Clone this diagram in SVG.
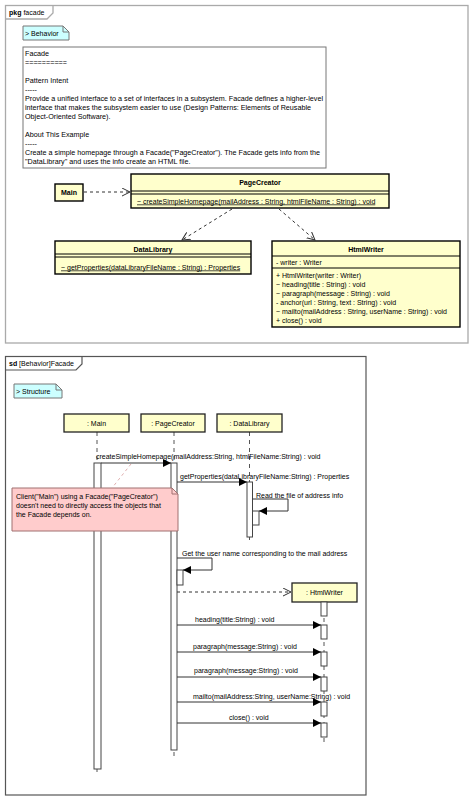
<svg xmlns="http://www.w3.org/2000/svg" width="474" height="801" viewBox="0 0 474 801">
<defs>
<style>
text{font-family:"Liberation Sans",Arial,sans-serif;font-size:7px;fill:#000}
.d{font-size:7.2px}
.b{font-weight:bold}
.u{text-decoration:underline}
.cls{fill:#ffffcc;stroke:#000;stroke-width:1.4}
.sep{stroke:#000;stroke-width:1}
.head{fill:#ffffcc;stroke:#222;stroke-width:1.3}
.act{fill:#fff;stroke:#444;stroke-width:1}
.life{stroke:#555;stroke-width:1;stroke-dasharray:4,4}
.msg{stroke:#333;stroke-width:1;fill:none}
.dep{stroke:#333;stroke-width:1;fill:none;stroke-dasharray:3,3}
</style>
<marker id="fa" markerWidth="8" markerHeight="8" refX="8" refY="4" orient="auto" markerUnits="userSpaceOnUse"><path d="M0,0 L8,4 L0,8 Z" fill="#000"/></marker>
<marker id="oa" markerWidth="9" markerHeight="9" refX="8" refY="4.5" orient="auto" markerUnits="userSpaceOnUse"><path d="M0,0.5 L8,4.5 L0,8.5" fill="none" stroke="#333" stroke-width="1"/></marker>
</defs>
<rect width="474" height="801" fill="#fff"/>

<g id="pkg-frame">
<rect x="5.5" y="5.5" width="462.5" height="337.5" fill="none" stroke="#aaa" stroke-width="1.3"/>
<path d="M5.5,19 H47 L53,13 V5.5" fill="none" stroke="#aaa" stroke-width="1.3"/>
<text x="9" y="15"><tspan class="b">pkg</tspan> facade</text>
</g>

<g id="note-behavior">
<path d="M23,26 H63 L69,32 V40 H23 Z" fill="#ccffff" stroke="#777" stroke-width="1"/>
<path d="M63,26 V32 H69" fill="none" stroke="#777" stroke-width="1"/>
<text x="25" y="35.5">&gt; Behavior</text>
</g>

<g id="note-description">
<rect x="23" y="47" width="303" height="121" fill="#fff" stroke="#777" stroke-width="1"/>
<text class="d" x="25" y="56">Facade</text>
<text class="d" x="25" y="65">==========</text>
<text class="d" x="25" y="83">Pattern Intent</text>
<text class="d" x="25" y="92">-----</text>
<text class="d" x="25" y="101">Provide a unified interface to a set of interfaces in a subsystem. Facade defines a higher-level</text>
<text class="d" x="25" y="110">interface that makes the subsystem easier to use (Design Patterns: Elements of Reusable</text>
<text class="d" x="25" y="119">Object-Oriented Software).</text>
<text class="d" x="25" y="137">About This Example</text>
<text class="d" x="25" y="146">-----</text>
<text class="d" x="25" y="155">Create a simple homepage through a Facade("PageCreator"). The Facade gets info from the</text>
<text class="d" x="25" y="164">"DataLibrary" and uses the info create an HTML file.</text>
</g>

<g id="class-Main">
<rect x="55" y="184" width="28" height="17" class="cls" stroke-width="1.8"/>
<text x="69" y="194.5" class="b" text-anchor="middle">Main</text>
</g>

<g id="class-PageCreator">
<rect x="131" y="174" width="258" height="34" class="cls"/>
<text x="260" y="185" class="b" text-anchor="middle">PageCreator</text>
<line x1="131" y1="191" x2="389" y2="191" class="sep"/>
<line x1="131" y1="194" x2="389" y2="194" class="sep"/>
<text x="137" y="203.5" class="u">~ createSimpleHomepage(mailAddress : String, htmlFileName : String) : void</text>
</g>

<g id="class-DataLibrary">
<rect x="55" y="241" width="196" height="33" class="cls"/>
<text x="153" y="251.5" class="b" text-anchor="middle">DataLibrary</text>
<line x1="55" y1="254" x2="251" y2="254" class="sep"/>
<line x1="55" y1="257" x2="251" y2="257" class="sep"/>
<text x="61" y="269.5" class="u">~ getProperties(dataLibraryFileName : String) : Properties</text>
</g>

<g id="class-HtmlWriter">
<rect x="272" y="241" width="188" height="86" class="cls"/>
<text x="366" y="251.5" class="b" text-anchor="middle">HtmlWriter</text>
<line x1="272" y1="256" x2="460" y2="256" class="sep"/>
<text x="276" y="264.5">- writer : Writer</text>
<line x1="272" y1="268" x2="460" y2="268" class="sep"/>
<text x="276" y="277.5">+ HtmlWriter(writer : Writer)</text>
<text x="276" y="286.5">~ heading(title : String) : void</text>
<text x="276" y="295.5">~ paragraph(message : String) : void</text>
<text x="276" y="304.5">- anchor(url : String, text : String) : void</text>
<text x="276" y="313.5">~ mailto(mailAddress : String, userName : String) : void</text>
<text x="276" y="322.5">+ close() : void</text>
</g>

<g id="class-connectors">
<line x1="84" y1="192" x2="130" y2="192" class="dep" marker-end="url(#oa)"/>
<line x1="232" y1="209" x2="182" y2="240" class="dep" marker-end="url(#oa)"/>
<line x1="279" y1="209" x2="315" y2="240" class="dep" marker-end="url(#oa)"/>
</g>

<g id="sd-frame">
<rect x="5.5" y="356.5" width="360.5" height="438.5" fill="none" stroke="#555" stroke-width="1.2"/>
<path d="M5.5,370 H76 L82,364 V356.5" fill="none" stroke="#555" stroke-width="1.2"/>
<text x="9" y="366"><tspan class="b">sd</tspan> [Behavior]Facade</text>
</g>

<g id="note-structure">
<path d="M14,384 H56 L62,390 V398 H14 Z" fill="#ccffff" stroke="#777" stroke-width="1"/>
<path d="M56,384 V390 H62" fill="none" stroke="#777" stroke-width="1"/>
<text x="16" y="393.5">&gt; Structure</text>
</g>

<g id="lifelines">
<line x1="97" y1="432" x2="97" y2="776" class="life"/>
<line x1="174" y1="432" x2="174" y2="756" class="life"/>
<line x1="249.5" y1="432" x2="249.5" y2="542" class="life"/>
<line x1="324" y1="602" x2="324" y2="745" class="life"/>
</g>

<g id="lifeline-Main">
<rect x="64" y="414" width="65" height="18" class="head"/>
<text x="96.5" y="425.5" text-anchor="middle">: Main</text>
<rect x="94" y="463" width="7" height="306" class="act"/>
</g>

<g id="lifeline-PageCreator">
<rect x="141" y="414" width="64" height="18" class="head"/>
<text x="173" y="425.5" text-anchor="middle">: PageCreator</text>
<rect x="171" y="463" width="6" height="287" class="act"/>
<rect x="177" y="570" width="6" height="15" class="act"/>
</g>

<g id="lifeline-DataLibrary">
<rect x="217" y="414" width="65" height="18" class="head"/>
<text x="249.5" y="425.5" text-anchor="middle">: DataLibrary</text>
<rect x="247" y="482" width="5.5" height="55" class="act"/>
<rect x="252.5" y="511" width="6.5" height="14" class="act"/>
</g>

<g id="lifeline-HtmlWriter">
<rect x="292" y="583" width="65" height="19" class="head"/>
<text x="324.5" y="595" text-anchor="middle">: HtmlWriter</text>
<rect x="321" y="602" width="6" height="14" class="act"/>
<rect x="321" y="625" width="6" height="14" class="act"/>
<rect x="321" y="652" width="6" height="14" class="act"/>
<rect x="321" y="677" width="6" height="14" class="act"/>
<rect x="321" y="702" width="6" height="14" class="act"/>
<rect x="321" y="723" width="6" height="14" class="act"/>
</g>

<g id="note-client">
<path d="M12,488 H172 L178,494 V531 H12 Z" fill="#ffcccc" stroke="#a07070" stroke-width="1"/>
<path d="M172,488 V494 H178" fill="none" stroke="#a07070" stroke-width="1"/>
<text x="16" y="498.5">Client("Main") using a Facade("PageCreator")</text>
<text x="16" y="507.5">doesn't need to directly access the objects that</text>
<text x="16" y="516.5">the Facade depends on.</text>
</g>

<g id="messages">
<line x1="131" y1="464" x2="112" y2="488" stroke="#e0b0b0" stroke-width="1" stroke-dasharray="3,3"/>
<line x1="101" y1="463" x2="171" y2="463" class="msg" marker-end="url(#fa)"/>
<text x="96" y="459">createSimpleHomepage(mailAddress:String, htmlFileName:String) : void</text>
<line x1="177" y1="482" x2="247" y2="482" class="msg" marker-end="url(#fa)"/>
<text x="180" y="478.5">getProperties(dataLibraryFileName:String) : Properties</text>
<path d="M252.5,499 H288 V511 H259" class="msg" marker-end="url(#fa)"/>
<text x="256" y="498">Read the file of address info</text>
<path d="M177,558 H212 V570 H183" class="msg" marker-end="url(#fa)"/>
<text x="182" y="556">Get the user name corresponding to the mail address</text>
<line x1="177" y1="592" x2="291" y2="592" class="dep" stroke-dasharray="4,3" marker-end="url(#oa)"/>
<line x1="177" y1="625" x2="321" y2="625" class="msg" marker-end="url(#fa)"/>
<text x="195" y="621.5">heading(title:String) : void</text>
<line x1="177" y1="652" x2="321" y2="652" class="msg" marker-end="url(#fa)"/>
<text x="193" y="648.5">paragraph(message:String) : void</text>
<line x1="177" y1="677" x2="321" y2="677" class="msg" marker-end="url(#fa)"/>
<text x="194" y="672.5">paragraph(message:String) : void</text>
<line x1="177" y1="702" x2="321" y2="702" class="msg" marker-end="url(#fa)"/>
<text x="193" y="698.5">mailto(mailAddress:String, userName:String) : void</text>
<line x1="177" y1="723" x2="321" y2="723" class="msg" marker-end="url(#fa)"/>
<text x="229" y="720">close() : void</text>
</g>
</svg>
